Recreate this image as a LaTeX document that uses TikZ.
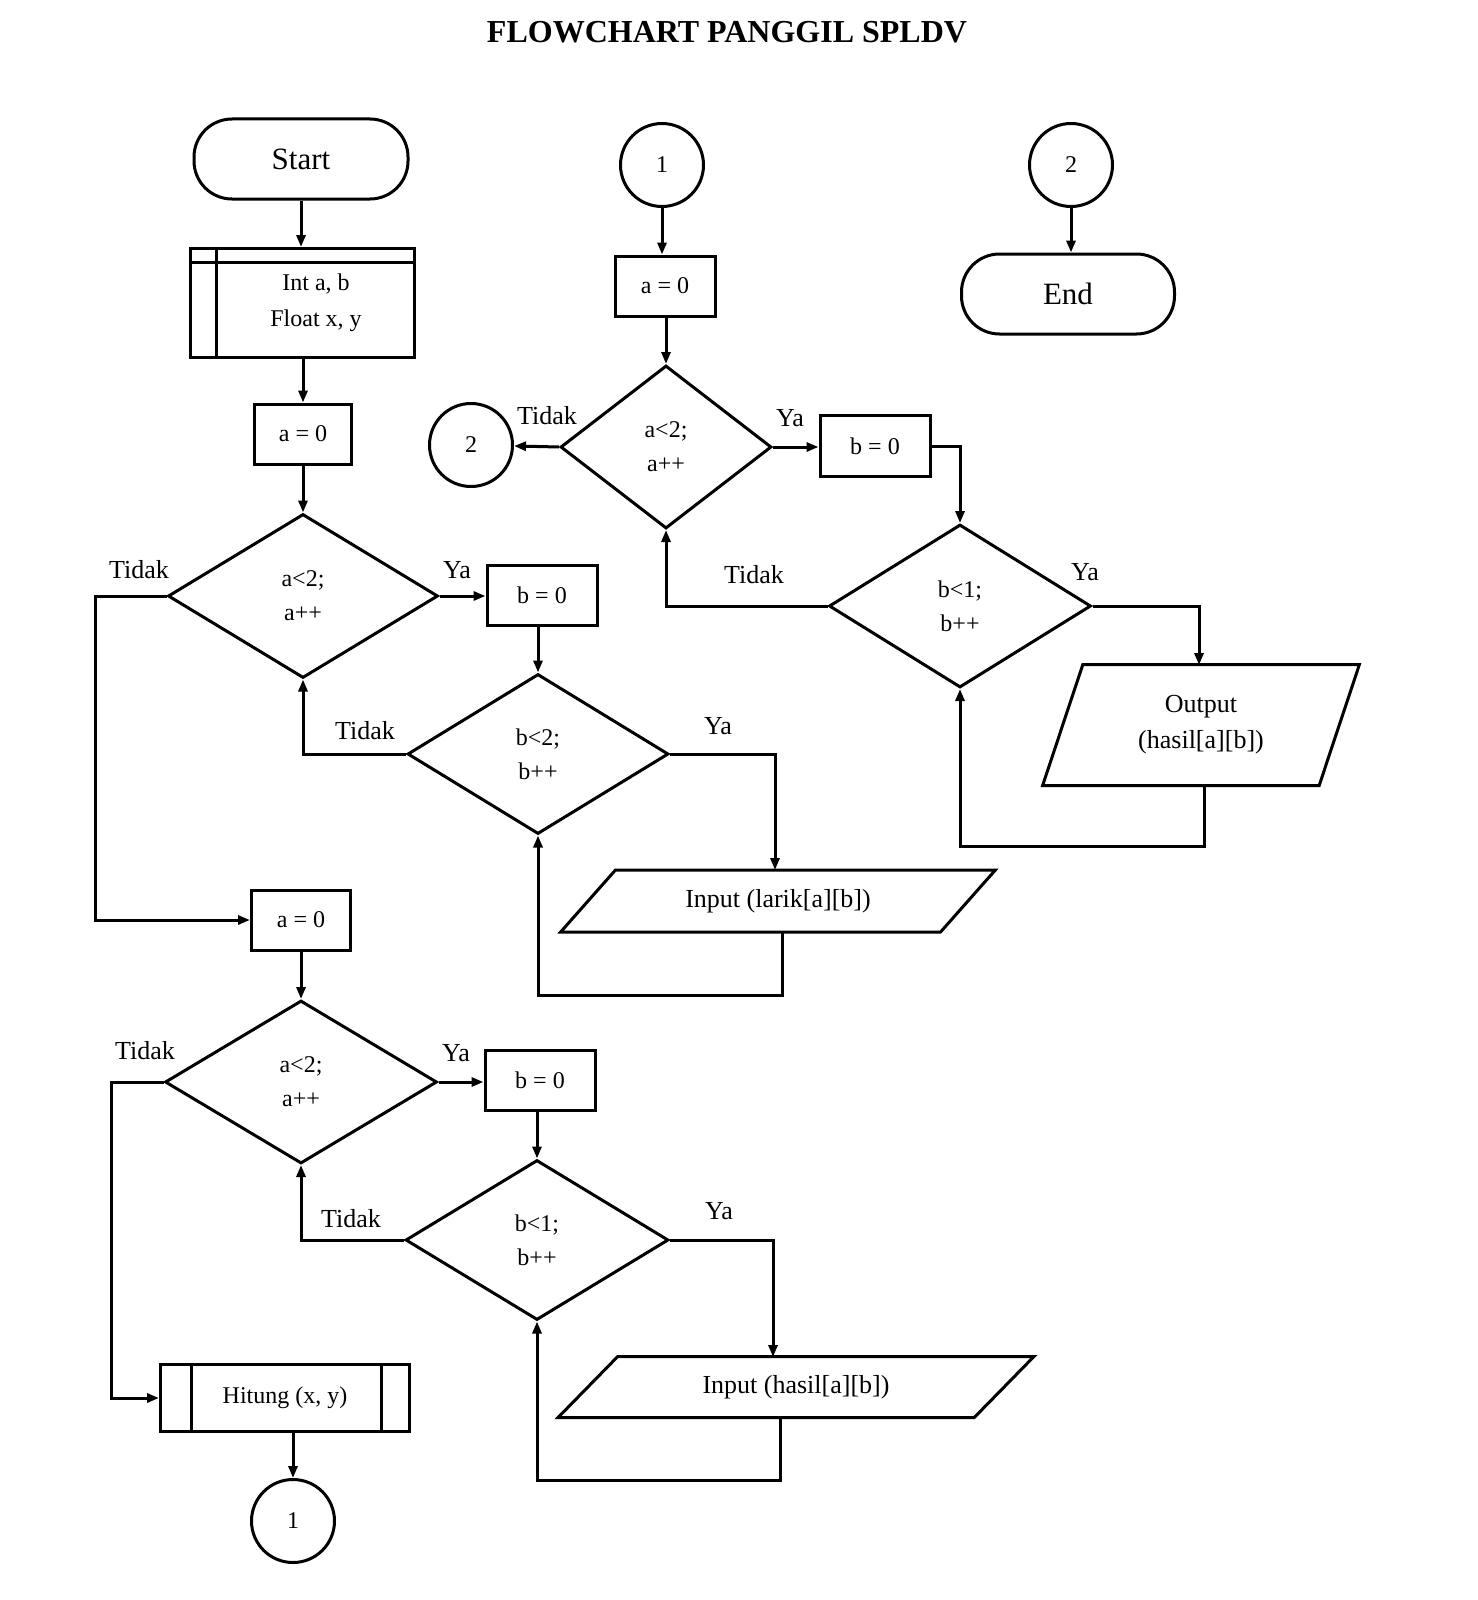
\documentclass[tikz,border=0pt]{standalone}
\usepackage{fontspec}
\setmainfont{Liberation Serif}
\usetikzlibrary{shapes.geometric,arrows.meta}
\begin{document}
\begin{tikzpicture}[x=1pt,y=-1pt,line width=3pt,
  box/.style={draw,rectangle,font=\fontsize{24}{28}\selectfont,inner sep=0},
  term/.style={draw,rounded corners=38pt,font=\fontsize{31}{36}\selectfont,inner sep=0},
  dec/.style={draw,diamond,font=\fontsize{24}{34}\selectfont,align=center,inner sep=0},
  io/.style={draw,trapezium,trapezium stretches=true,font=\fontsize{26}{36}\selectfont,align=center,inner sep=0},
  conn/.style={draw,circle,minimum size=83pt,font=\fontsize{24}{28}\selectfont,inner sep=0},
  lbl/.style={font=\fontsize{26}{30}\selectfont},
  arr/.style={-{Triangle[length=12pt,width=9pt]}}]
\useasboundingbox (0,0) rectangle (1477,1600);
\node[font=\fontsize{32}{36}\selectfont\bfseries] (title) at (727,32) {FLOWCHART PANGGIL SPLDV};
% left column
\node[term,minimum width=214pt,minimum height=80pt] (start) at (301,159) {Start};
\node[box,minimum width=224pt,minimum height=109pt,align=center,font=\fontsize{24}{36}\selectfont] (decl) at (302,303) {\hspace*{28pt}Int a, b\\\hspace*{28pt}Float x, y};
\draw ([xshift=28pt]decl.north west) -- ([xshift=28pt]decl.south west);
\draw ([yshift=-15pt]decl.north west) -- ([yshift=-15pt]decl.north east);
\node[box,minimum width=97pt,minimum height=60pt] (a1) at (303,434) {a = 0};
\node[dec,minimum width=270pt,minimum height=164pt] (d1) at (303,596) {a<2;\\a++};
\node[box,minimum width=110pt,minimum height=60pt] (b1) at (542,595) {b = 0};
\node[dec,minimum width=261pt,minimum height=160pt] (d2) at (538,754) {b<2;\\b++};
\node[io,trapezium left angle=37,trapezium right angle=143,minimum width=435pt,minimum height=62pt] (in1) at (778,901) {Input (larik[a][b])};
\node[box,minimum width=99pt,minimum height=60pt] (a2) at (301,920) {a = 0};
\node[dec,minimum width=272pt,minimum height=163pt] (d3) at (301,1082) {a<2;\\a++};
\node[box,minimum width=110pt,minimum height=60pt] (b2) at (540,1080) {b = 0};
\node[dec,minimum width=263pt,minimum height=160pt] (d4) at (537,1240) {b<1;\\b++};
\node[io,trapezium left angle=37,trapezium right angle=143,minimum width=477pt,minimum height=61pt] (in2) at (796,1387) {Input (hasil[a][b])};
\node[box,minimum width=249pt,minimum height=67pt] (hit) at (285,1398) {Hitung (x, y)};
\draw ([xshift=32pt]hit.north west) -- ([xshift=32pt]hit.south west);
\draw ([xshift=-30pt]hit.north east) -- ([xshift=-30pt]hit.south east);
\node[conn] (c1a) at (293,1521) {1};
% right part
\node[conn] (c1b) at (662,165) {1};
\node[box,minimum width=100pt,minimum height=60pt] (a3) at (665,286) {a = 0};
\node[dec,minimum width=211pt,minimum height=163pt] (d5) at (666,447) {a<2;\\a++};
\node[conn] (c2a) at (471,445) {2};
\node[box,minimum width=110pt,minimum height=61pt] (b3) at (875,446) {b = 0};
\node[dec,minimum width=262pt,minimum height=163pt] (d6) at (960,606) {b<1;\\b++};
\node[io,trapezium left angle=70,trapezium right angle=110,minimum width=317pt,minimum height=121pt] (out) at (1201,725) {Output\\(hasil[a][b])};
\node[conn] (c2b) at (1071,165) {2};
\node[term,minimum width=213pt,minimum height=80pt] (end) at (1068,294) {End};
% flow left
\draw[arr] (start) -- (start|-decl.north);
\draw[arr] (decl.south-|a1) -- (a1);
\draw[arr] (a1) -- (d1);
\draw[arr] (d1.east) -- (b1.west|-d1.east);
\draw[arr] (b1.south-|d2) -- (d2.north);
\draw[arr] (d2.east) -| (775,870);
\draw[arr] (782,932) -- (782,995) -| (d2.south);
\draw[arr] (d2.west) -| (d1.south);
\draw[arr] (d1.west) -- (95,596) |- (a2.west);
\draw[arr] (a2) -- (d3);
\draw[arr] (d3.east) -- (b2.west|-d3.east);
\draw[arr] (b2.south-|d4) -- (d4.north);
\draw[arr] (d4.east) -| (773,1357);
\draw[arr] (780,1418) -- (780,1480) -| (d4.south);
\draw[arr] (d4.west) -| (d3.south);
\draw[arr] (d3.west) -- (111,1082) |- (hit.west);
\draw[arr] (hit.south-|c1a) -- (c1a);
% flow right
\draw[arr] (c1b) -- (c1b|-a3.north);
\draw[arr] (a3.south-|d5) -- (d5.north);
\draw[arr] (d5.west) -- (c2a);
\draw[arr] (d5.east) -- (b3.west|-d5.east);
\draw[arr] (b3.east) -| (d6.north);
\draw[arr] (d6.east) -| (1199,665);
\draw[arr] (1204,786) -- (1204,846) -| (d6.south);
\draw[arr] (d6.west) -| (d5.south);
\draw[arr] (c2b) -- (c2b|-end.north);
% labels
\node[lbl] at (139,570) {Tidak};
\node[lbl] at (457,570) {Ya};
\node[lbl] at (365,731) {Tidak};
\node[lbl] at (718,726) {Ya};
\node[lbl] at (145,1051) {Tidak};
\node[lbl] at (456,1053) {Ya};
\node[lbl] at (351,1219) {Tidak};
\node[lbl] at (719,1211) {Ya};
\node[lbl] at (547,416) {Tidak};
\node[lbl] at (790,418) {Ya};
\node[lbl] at (754,575) {Tidak};
\node[lbl] at (1085,572) {Ya};
\end{tikzpicture}
\end{document}
